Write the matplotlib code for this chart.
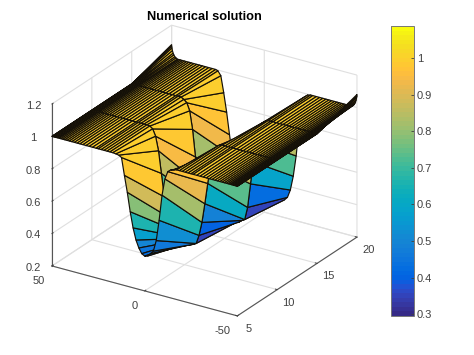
import numpy as np
import matplotlib
matplotlib.use("Agg")
import matplotlib.pyplot as plt
from matplotlib.colors import ListedColormap, Normalize
from matplotlib.cm import ScalarMappable

plt.rcParams['font.family'] = ['Liberation Sans', 'DejaVu Sans']
plt.rcParams['axes.unicode_minus'] = False
TXT = '#404040'

t_vals = [5, 10, 15, 20]
x_left = [50, 49.95, 49.8, 49.56, 49.21, 48.77, 48.23, 47.59, 46.86, 46.03, 45.11, 44.1, 43.03, 41.85,
          40.63, 39.3, 37.9, 36.4, 34.9, 33.3, 31.6, 29.9, 28.1, 26.2]
x_mid = [25, 23.44, 21.88, 20.31, 18.75, 17.19, 15.63, 14.06, 12.5, 10.94,
         9.38, 7.81, 6.25, 4.69, 3.13, 1.56, 0, -1.56, -3.13, -4.69, -6.25, -7.81, -9.38, -10.94,
         -12.5, -14.06, -15.63, -17.19, -18.75, -20.31, -21.88, -23.44, -25]
x_right = [-26.2, -28.1, -29.9, -31.6, -33.3, -34.9, -36.4, -37.9, -39.3, -40.63, -41.85, -43.03, -44.1,
           -45.11, -46.03, -46.86, -47.59, -48.23, -48.77, -49.21, -49.56, -49.8, -49.95, -50]
x_vals = x_left + x_mid + x_right

u_t5 = [1]*30 + [.998, .995, .985, .88, .78, .665, .57, .50, .455, .425, .415, .42, .44, .46,
                 .53, .66, .82, .925, .975, .99, .995] + [1]*30
u_t10 = [1]*28 + [.998, .985, .945, .86, .725, .585, .47, .40, .36, .345, .34, .337, .335, .334, .333,
                  .34, .35, .405, .49, .61, .74, .86, .94, .98, .995] + [1]*28
u_t15 = [1]*26 + [.99, .975, .93, .82, .655, .50, .39, .34, .32, .315, .312, .31, .31, .31, .31, .31, .31,
                  .312, .318, .325, .34, .35, .43, .58, .72, .85, .935, .975, .99, .998] + [1]*25
u_t20 = [1.08, 1.07, 1.06, 1.045, 1.03, 1.02, 1.01, 1.005] + [1]*16 + \
        [.995, .97, .87, .755, .62, .49, .38, .33, .31, .30, .30, .30, .30,
         .30, .30, .30, .30, .30, .30, .30, .30, .30, .305, .31, .33, .38, .47, .60, .78, .92, .98, .995] + \
        [1]*17 + [1.005, 1.01, 1.02, 1.03, 1.045, 1.06, 1.07, 1.08]

x_ticks = [-50, 0, 50]
t_ticks = [5, 10, 15, 20]
u_ticks = [0.2, 0.4, 0.6, 0.8, 1.0, 1.2]
u_labels = ['0.2', '0.4', '0.6', '0.8', '1', '1.2']
cb_ticks = [0.3, 0.4, 0.5, 0.6, 0.7, 0.8, 0.9, 1.0]
cb_labels = ['0.3', '0.4', '0.5', '0.6', '0.7', '0.8', '0.9', '1']

parula = ListedColormap([
    [.2081,.1663,.5292],[.2116,.1898,.5777],[.2123,.2138,.6270],[.2081,.2386,.6771],[.1959,.2645,.7279],
    [.1707,.2919,.7792],[.1253,.3242,.8303],[.0591,.3598,.8683],[.0117,.3875,.8820],[.0060,.4086,.8828],
    [.0165,.4266,.8786],[.0329,.4430,.8720],[.0498,.4586,.8641],[.0629,.4737,.8554],[.0723,.4887,.8467],
    [.0779,.5040,.8384],[.0793,.5200,.8312],[.0749,.5375,.8263],[.0641,.5570,.8240],[.0488,.5772,.8228],
    [.0343,.5966,.8199],[.0265,.6137,.8135],[.0239,.6287,.8038],[.0231,.6418,.7913],[.0228,.6535,.7768],
    [.0267,.6642,.7607],[.0384,.6743,.7436],[.0590,.6838,.7254],[.0843,.6928,.7062],[.1133,.7015,.6859],
    [.1453,.7098,.6646],[.1801,.7177,.6424],[.2178,.7250,.6193],[.2586,.7317,.5954],[.3022,.7376,.5712],
    [.3482,.7424,.5473],[.3953,.7459,.5244],[.4420,.7481,.5033],[.4871,.7491,.4840],[.5300,.7491,.4661],
    [.5709,.7485,.4494],[.6099,.7473,.4337],[.6473,.7456,.4188],[.6834,.7435,.4044],[.7184,.7411,.3905],
    [.7525,.7384,.3768],[.7858,.7356,.3633],[.8185,.7327,.3498],[.8507,.7299,.3360],[.8824,.7274,.3217],
    [.9139,.7258,.3063],[.9450,.7261,.2886],[.9739,.7314,.2666],[.9938,.7455,.2403],[.9990,.7653,.2164],
    [.9955,.7861,.1967],[.9880,.8066,.1794],[.9789,.8271,.1633],[.9697,.8481,.1475],[.9626,.8705,.1309],
    [.9589,.8949,.1132],[.9598,.9218,.0948],[.9661,.9514,.0755],[.9763,.9831,.0538]])

fig = plt.figure(figsize=(4.74, 3.55), dpi=100)
W, H = 474, 355
ax = fig.add_axes([25/W, 5/H, 349.5/W, 349.5/H], projection='3d', proj_type='ortho')
ax.set_box_aspect((220, 222, 178.6))
ax.view_init(elev=24.9, azim=-57.4)

X, T = np.meshgrid(x_vals, t_vals)
U = np.array([u_t5, u_t10, u_t15, u_t20])
norm = Normalize(0.295, 1.088)
ax.plot_surface(X, T, U, rstride=1, cstride=1, facecolors=parula(norm(U)), shade=False,
                edgecolor='#141008', linewidth=0.85, antialiased=True)

ax.set_xlim(50, -50, view_margin=0)
ax.set_ylim(5, 20, view_margin=0)
ax.set_zlim(0.2, 1.2, view_margin=0)
ax.set_xticks(x_ticks)
ax.set_yticks(t_ticks)
ax.set_zticks(u_ticks)
ax.set_zticklabels(u_labels)
ax.tick_params(labelsize=8, colors=TXT, pad=0)
for axis in (ax.xaxis, ax.yaxis, ax.zaxis):
    axis.pane.fill = False
    axis.pane.set_edgecolor('none')
    axis.line.set_color('#555555')
    axis.line.set_linewidth(0.8)
    axis._axinfo['grid'].update(color='#dfdfdf', linewidth=0.8)
    axis._axinfo['tick'].update(inward_factor=0.0, outward_factor=0.12)
    axis._axinfo['tick']['color'] = '#555555'
    axis._axinfo['tick']['linewidth'] = {True: 0.7, False: 0.5}
ax.zaxis.set_ticks_position('lower')
ax.zaxis.set_label_position('lower')
for tick in ax.xaxis.get_major_ticks():
    tick.label1.set_va('center')
    tick.label1.set_ha('right')
for tick in ax.yaxis.get_major_ticks():
    tick.label1.set_va('center')
for tick in ax.zaxis.get_major_ticks():
    tick.label1.set_va('center')


def place_label(axis, text, px, py, rotation=0):
    """Axis label pinned to a figure position instead of the automatic 3D one."""
    axis.set_label_text(text, fontsize=9, color=TXT, rotation=rotation)
    axis.label.set_transform(fig.transFigure)
    axis.label.set_position((px/W, 1 - py/H))
    axis.label.set_position = lambda *_: None


ax.zaxis.set_rotate_label(False)
place_label(ax.xaxis, 'x', 154, 333)
place_label(ax.yaxis, 't', 300, 325)
place_label(ax.zaxis, 'u', 16, 185, rotation=90)
ax.set_title('Numerical solution', fontsize=9.2, fontweight='bold', color='black',
             x=(204-25)/349.5, y=(350-20)/349.5/0.92, pad=0)

cax = fig.add_axes([391/W, (H-316)/H, 23/W, 290/H])
cb = fig.colorbar(ScalarMappable(norm=norm, cmap=parula), cax=cax, ticks=cb_ticks)
cb.set_ticklabels(cb_labels)
cb.ax.tick_params(labelsize=8, colors=TXT, direction='in', length=2, width=0.6, pad=2)
cb.outline.set_edgecolor('#777777')
cb.outline.set_linewidth(0.7)

fig.savefig('out.png', dpi=100)
